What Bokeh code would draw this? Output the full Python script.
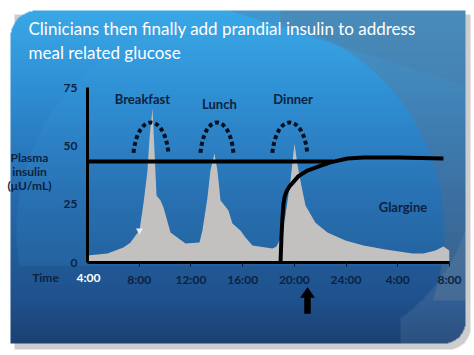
import numpy as np
from bokeh.plotting import figure
from bokeh.layouts import column
from bokeh.models import FixedTicker, Range1d
from bokeh.embed import file_html
from bokeh.resources import INLINE
from bokeh.core.properties import value

# ---------------- data ----------------
hours = [4.00, 5.55, 6.78, 7.33, 7.71, 8.02, 8.33, 8.64, 8.80, 9.03, 9.18, 9.34, 9.65,
         9.88, 10.42, 11.58, 12.66, 12.89, 13.28, 13.51, 13.82, 14.05, 14.29, 14.60,
         14.90, 15.21, 15.83, 16.22, 16.76, 18.31, 18.62, 18.93, 19.31, 19.70, 20.01,
         20.25, 20.47, 20.86, 21.63, 22.56, 23.95, 25.35, 27.05, 29.14, 29.99, 30.91,
         31.53, 32.00]
insulin = [3.0, 3.9, 6.4, 8.6, 11.6, 13.7, 25.3, 39.4, 53.6, 66.0, 48.0, 28.7, 26.6,
           23.6, 12.9, 8.1, 8.6, 13.7, 27.9, 39.4, 46.7, 39.4, 26.6, 24.4,
           22.3, 16.7, 13.7, 10.7, 7.3, 6.0, 6.9, 10.3, 20.0, 35.0, 51.0,
           41.6, 35.0, 24.4, 17.0, 12.9, 9.4, 7.3, 5.6, 3.9, 3.9, 5.1,
           6.9, 5.0]

glargine_hours = [18.93, 19.00, 19.08, 19.16, 19.24, 19.39, 19.62, 19.85, 20.32, 21.01,
                  21.79, 22.79, 24.11, 25.35, 27.98, 31.53]
glargine_level = [0.0, 10.7, 19.0, 25.0, 27.9, 30.4, 32.6, 34.0, 37.0, 39.4,
                  41.0, 42.9, 44.6, 45.0, 45.0, 44.6]

basal_hours = [4.0, 23.0]
basal_level = [43.3, 43.3]

meal_names = ["Breakfast", "Lunch", "Dinner"]
meal_start = [7.56, 12.74, 18.30]
meal_end = [10.26, 15.29, 21.00]
meal_base = [47.0, 47.0, 47.0]
meal_top = [60.0, 60.0, 60.0]
meal_label_x = [8.25, 14.2, 19.9]
meal_label_y = [69.9, 68.1, 69.9]

glargine_label = ["Glargine"]
glargine_label_x = [28.4]
glargine_label_y = [23.6]

marker_x = [8.02]
marker_y = [13.7]

x_ticks = [8, 12, 16, 20, 24, 28, 32]
x_tick_labels = ["8:00", "12:00", "16:00", "20:00", "24:00", "4:00", "8:00"]
first_x_label = "4:00"
y_ticks = [0, 25, 50, 75]

title_lines = ["Clinicians then finally add prandial insulin to address",
               "meal related glucose"]
ylabel_lines = ["Plasma", "insulin", "(\u03bcU/mL)"]
xlabel = "Time"

# ---------------- sizes ----------------
W, H = 474, 355
FL, FR, FT, FB = 87, 449, 87, 262   # data frame edges in canvas pixels
NAVY = "#0c2240"

# ---------------- background slide (pixel space) ----------------
bg = figure(width=W, height=H, x_range=Range1d(0, W), y_range=Range1d(0, H),
            output_backend="svg", toolbar_location=None,
            x_axis_type=None, y_axis_type=None,
            min_border=0, min_border_left=0, min_border_right=0,
            min_border_top=0, min_border_bottom=0)
bg.outline_line_color = None
bg.grid.visible = False
bg.background_fill_color = "white"
bg.border_fill_color = "white"
bg.frame_align = False


def hexrgb(h):
    h = h.lstrip("#")
    return np.array([int(h[i:i + 2], 16) for i in (0, 2, 4)], dtype=float)


yy, xx = np.mgrid[0:H, 0:W].astype(float) + 0.5
img = np.ones((H, W, 3)) * 255.0

# shadow
sh = (xx >= 14) & (xx < 470) & (yy >= 14) & (yy < 349)
r2 = 22
sh &= ~((xx > 470 - r2) & (yy > 349 - r2) &
        (((xx - (470 - r2)) ** 2 + (yy - (349 - r2)) ** 2) > r2 ** 2))
img[sh] = hexrgb("#cdcdcd")

# slide shape
sl = (xx >= 10) & (xx < 465) & (yy >= 10) & (yy < 343)
r1 = 27
sl &= ~((xx < 10 + r1) & (yy < 10 + r1) &
        (((xx - (10 + r1)) ** 2 + (yy - (10 + r1)) ** 2) > r1 ** 2))
sl &= ~((xx > 465 - r2) & (yy > 343 - r2) &
        (((xx - (465 - r2)) ** 2 + (yy - (343 - r2)) ** 2) > r2 ** 2))

stops_y = [10, 60, 90, 150, 200, 260, 300, 343]
stops_c = ["#3aa8e6", "#3399dc", "#2f8ed3", "#2a79bd", "#2669aa", "#215b97", "#1f518d", "#1b4172"]
cols = np.array([hexrgb(c) for c in stops_c])
grad = np.stack([np.interp(yy[:, 0], stops_y, cols[:, k]) for k in range(3)], axis=1)
slide = np.repeat(grad[:, None, :], W, axis=1)


def blend(mask, color, a):
    c = hexrgb(color)
    slide[mask] = slide[mask] * (1 - a) + c * a


# brighter big circle in the middle
circ = ((xx - 230) ** 2 + (yy - 230) ** 2) < 214 ** 2
blend(circ & (yy < 265), "#3aa8e6", 0.12)
# greyer region to the right of the circle
blend(~circ & (xx > 280) & (yy < 300), "#607890", 0.38)
# darker top-right triangle
tri = (yy < 10 + (xx - 228) * 75.0 / 237.0) & (xx > 228)
blend(tri, "#4a7aa5", 0.35)
# lighter bottom-right crescent
cres = (((xx - 300) / 175.0) ** 2 + ((yy - 170) / 180.0) ** 2 > 1) & (xx > 400) & (yy > 230)
blend(cres, "#8ea4bc", 0.16)

img[sl] = slide[sl]
rgba = np.dstack([img, np.full((H, W), 255.0)]).astype(np.uint8)
rgba32 = rgba[::-1].copy().view(dtype=np.uint32).reshape(H, W)
bg.image_rgba(image=[rgba32], x=0, y=0, dw=W, dh=H)

# texts outside the data frame (pixel positions, y measured from top)
bg.text(x=[28, 28], y=[H - 28, H - 52], text=title_lines, text_font=value("Lato"),
        text_font_size="17px", text_color="white", text_baseline="alphabetic",
        text_align="left")
bg.text(x=[29, 29, 29], y=[H - 157, H - 171, H - 185], text=ylabel_lines,
        text_font=value("Lato"), text_font_style="bold", text_font_size="12px",
        text_color=NAVY, text_baseline="middle", text_align="center")
bg.text(x=[45], y=[H - 277], text=[xlabel], text_font=value("Lato"), text_font_style="bold",
        text_font_size="12px", text_color=NAVY, text_baseline="middle", text_align="center")
bg.text(x=[88], y=[H - 277], text=[first_x_label], text_font=value("Lato"),
        text_font_style="bold", text_font_size="12px", text_color="white",
        text_baseline="middle", text_align="center")

# arrow below 20:00
ax = 307
bg.patch(x=[ax - 3, ax - 3, ax - 7, ax, ax + 7, ax + 3, ax + 3],
         y=[H - 313, H - 297, H - 297, H - 287, H - 297, H - 297, H - 313],
         fill_color="black", line_color="black", line_width=0.5)

# ---------------- data plot (transparent, on top) ----------------
p = figure(width=W, height=H, x_range=Range1d(4, 32), y_range=Range1d(0, 75),
           output_backend="svg", toolbar_location=None,
           min_border_left=FL, min_border_right=W - FR,
           min_border_top=FT, min_border_bottom=H - FB)
p.background_fill_color = None
p.border_fill_color = None
p.outline_line_color = None
p.grid.visible = False
p.frame_align = False
p.margin = (-H, 0, 0, 0)

p.varea(x=hours, y1=0, y2=insulin, fill_color="#c3c1c0")

p.line(basal_hours, basal_level, line_color="black", line_width=4)
p.line(glargine_hours, glargine_level, line_color="black", line_width=4)

cx0 = [a + 0.12 * (b - a) for a, b in zip(meal_start, meal_end)]
cx1 = [b - 0.12 * (b - a) for a, b in zip(meal_start, meal_end)]
cy = [(t - 0.25 * b0) / 0.75 for t, b0 in zip(meal_top, meal_base)]
p.bezier(x0=meal_start, y0=meal_base, x1=meal_end, y1=meal_base,
         cx0=cx0, cy0=cy, cx1=cx1, cy1=cy,
         line_color="#05101f", line_width=4, line_dash="4 3")

p.scatter(marker_x, marker_y, marker="inverted_triangle", size=7,
          fill_color="#e6edf5", line_color=None)

p.text(x=meal_label_x, y=meal_label_y, text=meal_names, text_font=value("Lato"),
       text_font_style="bold", text_font_size="13px", text_color=NAVY,
       text_align="center", text_baseline="middle")
p.text(x=glargine_label_x, y=glargine_label_y, text=glargine_label, text_font=value("Lato"),
       text_font_style="bold", text_font_size="13px", text_color=NAVY,
       text_align="center", text_baseline="middle")

xa = p.xaxis[0]
xa.ticker = FixedTicker(ticks=x_ticks)
xa.major_label_overrides = {t: l for t, l in zip(x_ticks, x_tick_labels)}
xa.minor_tick_line_color = None
xa.major_tick_in = 0
xa.major_tick_out = 4
xa.major_tick_line_color = "#0a1a30"
xa.axis_line_width = 3
xa.axis_line_color = "black"
xa.major_label_standoff = 5
xa.major_label_text_font = "Lato"
xa.major_label_text_font_style = "bold"
xa.major_label_text_font_size = "12px"
xa.major_label_text_color = NAVY

ya = p.yaxis[0]
ya.ticker = FixedTicker(ticks=y_ticks)
ya.minor_tick_line_color = None
ya.major_tick_in = 0
ya.major_tick_out = 0
ya.axis_line_width = 3
ya.axis_line_color = "black"
ya.major_label_standoff = 10
ya.major_label_text_font = "Lato"
ya.major_label_text_font_style = "bold"
ya.major_label_text_font_size = "12px"
ya.major_label_text_color = NAVY

layout = column(bg, p, spacing=0)
open("out.html", "w").write(file_html(layout, INLINE))
